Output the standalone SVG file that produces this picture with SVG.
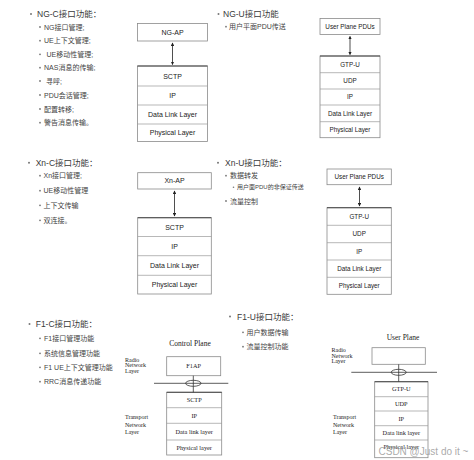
<svg xmlns="http://www.w3.org/2000/svg" width="474" height="460" viewBox="0 0 474 460">
<defs>
<style>
.t{font-family:"Liberation Sans","Noto Sans CJK SC",sans-serif;font-size:8.5px;fill:#3a3a3a}
.s{font-family:"Liberation Sans","Noto Sans CJK SC",sans-serif;font-size:7px;fill:#444}
.ss{font-family:"Liberation Sans","Noto Sans CJK SC",sans-serif;font-size:6px;fill:#444}
.b{fill:#777}
.box{fill:#fff;stroke:#8a8a8a;stroke-width:0.8}
.top{stroke:#444;stroke-width:1.1}
.sep{stroke:#999;stroke-width:0.7}
.l{font-family:"Liberation Sans",sans-serif;font-size:7px;fill:#222;text-anchor:middle}
.lu{font-family:"Liberation Sans",sans-serif;font-size:6.3px;fill:#222;text-anchor:middle}
.sf{font-family:"Liberation Serif",serif;font-size:6.3px;fill:#222;text-anchor:middle}
.sfl{font-family:"Liberation Serif",serif;font-size:6px;fill:#222}
.sft{font-family:"Liberation Serif",serif;font-size:7.5px;fill:#222;text-anchor:middle}
.ar{stroke:#222;stroke-width:0.8;fill:none;marker-start:url(#ah);marker-end:url(#ah)}
.ln{stroke:#333;stroke-width:0.8;fill:none}
</style>
<marker id="ah" viewBox="0 0 6 6" refX="5" refY="3" markerWidth="3.5" markerHeight="3.5" orient="auto-start-reverse" markerUnits="userSpaceOnUse"><path d="M0,0 L6,3 L0,6 z" fill="#222"/></marker>
</defs>
<rect width="474" height="460" fill="#fff"/>

<!-- NG-C -->
<g id="ngc-text">
<circle class="b" cx="31" cy="14" r="1"/><text class="t" x="37" y="17">NG-C接口功能：</text>
<circle class="b" cx="40" cy="27" r="0.9"/><text class="s" x="44" y="29.5">NG接口管理;</text>
<circle class="b" cx="40" cy="40.7" r="0.9"/><text class="s" x="44" y="43.2">UE上下文管理;</text>
<circle class="b" cx="40" cy="54.3" r="0.9"/><text class="s" x="46.5" y="56.8">UE移动性管理;</text>
<circle class="b" cx="40" cy="67.7" r="0.9"/><text class="s" x="44" y="70.2">NAS消息的传输;</text>
<circle class="b" cx="40" cy="81" r="0.9"/><text class="s" x="46" y="83.5">寻呼;</text>
<circle class="b" cx="40" cy="95" r="0.9"/><text class="s" x="44" y="97.5">PDU会话管理;</text>
<circle class="b" cx="40" cy="109" r="0.9"/><text class="s" x="44" y="111.5">配置转移;</text>
<circle class="b" cx="40" cy="122.7" r="0.9"/><text class="s" x="44" y="125.2">警告消息传输。</text>
</g>
<g id="ngc-ap"><rect class="box" x="137.5" y="23.5" width="70" height="17.5"/><text class="l" x="172.5" y="34.7">NG-AP</text></g>
<g id="ngc-stack">
<rect class="box" x="137.5" y="66" width="70" height="75.5"/>
<line class="top" x1="137.5" y1="66" x2="207.5" y2="66"/>
<line class="sep" x1="137.5" y1="86" x2="207.5" y2="86"/>
<line class="sep" x1="137.5" y1="105" x2="207.5" y2="105"/>
<line class="sep" x1="137.5" y1="124" x2="207.5" y2="124"/>
<text class="l" x="172.5" y="78.5">SCTP</text>
<text class="l" x="172.5" y="98">IP</text>
<text class="l" x="172.5" y="117">Data Link Layer</text>
<text class="l" x="172.5" y="135.3">Physical Layer</text>
</g>

<!-- NG-U -->
<g id="ngu-text">
<circle class="b" cx="218.5" cy="14" r="1"/><text class="t" x="223" y="17">NG-U接口功能</text>
<circle class="b" cx="226" cy="26.7" r="0.9"/><text class="s" x="229" y="29.2">用户平面PDU传送</text>
</g>
<g id="ngu-pdu"><rect class="box" x="320" y="18.5" width="60" height="16"/><text class="lu" x="350" y="28.8">User Plane PDUs</text></g>
<g id="ngu-stack">
<rect class="box" x="320" y="56" width="60" height="81.7"/>
<line class="top" x1="320" y1="56" x2="380" y2="56"/>
<line class="sep" x1="320" y1="72.7" x2="380" y2="72.7"/>
<line class="sep" x1="320" y1="89" x2="380" y2="89"/>
<line class="sep" x1="320" y1="105" x2="380" y2="105"/>
<line class="sep" x1="320" y1="121.7" x2="380" y2="121.7"/>
<text class="lu" x="350" y="66.6">GTP-U</text>
<text class="lu" x="350" y="83">UDP</text>
<text class="lu" x="350" y="99.2">IP</text>
<text class="lu" x="350" y="115.5">Data Link Layer</text>
<text class="lu" x="350" y="131.8">Physical Layer</text>
</g>

<!-- Xn-C -->
<g id="xnc-text">
<circle class="b" cx="29" cy="162.7" r="1"/><text class="t" x="35.7" y="165.7">Xn-C接口功能：</text>
<circle class="b" cx="40" cy="175.7" r="0.9"/><text class="s" x="43.5" y="178.3">Xn接口管理;</text>
<circle class="b" cx="40" cy="190.7" r="0.9"/><text class="s" x="43.5" y="193.3">UE移动性管理</text>
<circle class="b" cx="40" cy="205.3" r="0.9"/><text class="s" x="43.5" y="207.9">上下文传输</text>
<circle class="b" cx="40" cy="220.3" r="0.9"/><text class="s" x="43.5" y="222.9">双连接。</text>
</g>
<g id="xnc-ap"><rect class="box" x="137.7" y="172.7" width="73.6" height="16.3"/><text class="l" x="174.5" y="183.3">Xn-AP</text></g>
<g id="xnc-stack">
<rect class="box" x="137.7" y="217.7" width="73.6" height="76.3"/>
<line class="top" x1="137.7" y1="217.7" x2="211.3" y2="217.7"/>
<line class="sep" x1="137.7" y1="236.5" x2="211.3" y2="236.5"/>
<line class="sep" x1="137.7" y1="255.7" x2="211.3" y2="255.7"/>
<line class="sep" x1="137.7" y1="275.3" x2="211.3" y2="275.3"/>
<text class="l" x="174.5" y="229.6">SCTP</text>
<text class="l" x="174.5" y="248.6">IP</text>
<text class="l" x="174.5" y="268">Data Link Layer</text>
<text class="l" x="174.5" y="287.2">Physical Layer</text>
</g>

<!-- Xn-U -->
<g id="xnu-text">
<circle class="b" cx="218" cy="162.7" r="1"/><text class="t" x="225" y="165.7">Xn-U接口功能：</text>
<circle class="b" cx="226" cy="175.7" r="0.9"/><text class="s" x="230" y="178.2">数据转发</text>
<circle class="b" cx="233.5" cy="187.3" r="0.8"/><text class="ss" x="237" y="189.4">用户面PDU的非保证传送</text>
<circle class="b" cx="226" cy="201" r="0.9"/><text class="s" x="230" y="203.5">流量控制</text>
</g>
<g id="xnu-pdu"><rect class="box" x="327" y="169" width="64.3" height="15.7"/><text class="lu" x="359.2" y="179.1">User Plane PDUs</text></g>
<g id="xnu-stack">
<rect class="box" x="327" y="207.7" width="64.3" height="86.6"/>
<line class="top" x1="327" y1="207.7" x2="391.3" y2="207.7"/>
<line class="sep" x1="327" y1="225.3" x2="391.3" y2="225.3"/>
<line class="sep" x1="327" y1="242.7" x2="391.3" y2="242.7"/>
<line class="sep" x1="327" y1="260" x2="391.3" y2="260"/>
<line class="sep" x1="327" y1="277.3" x2="391.3" y2="277.3"/>
<text class="lu" x="359.2" y="218.7">GTP-U</text>
<text class="lu" x="359.2" y="236.2">UDP</text>
<text class="lu" x="359.2" y="253.5">IP</text>
<text class="lu" x="359.2" y="270.8">Data Link Layer</text>
<text class="lu" x="359.2" y="288">Physical Layer</text>
</g>

<!-- F1-C -->
<g id="f1c-text">
<circle class="b" cx="29.5" cy="324" r="1"/><text class="t" x="35.7" y="327">F1-C接口功能：</text>
<circle class="b" cx="40" cy="338.3" r="0.9"/><text class="s" x="44" y="340.8">F1接口管理功能</text>
<circle class="b" cx="40" cy="353.3" r="0.9"/><text class="s" x="44" y="355.8">系统信息管理功能</text>
<circle class="b" cx="40" cy="367.3" r="0.9"/><text class="s" x="44" y="369.8">F1 UE上下文管理功能</text>
<circle class="b" cx="40" cy="381.7" r="0.9"/><text class="s" x="44" y="384.2">RRC消息传递功能</text>
</g>
<g id="f1c-labels">
<text class="sft" x="190" y="346">Control Plane</text>
<text class="sfl" x="125" y="361.5">Radio</text>
<text class="sfl" x="125" y="367">Network</text>
<text class="sfl" x="125" y="372.5">Layer</text>
<text class="sfl" x="125" y="419">Transport</text>
<text class="sfl" x="125" y="426.5">Network</text>
<text class="sfl" x="125" y="434">Layer</text>
</g>
<g id="f1c-ap"><rect class="box" x="166.7" y="356.7" width="54" height="19"/><text class="sf" x="193.7" y="368.3">F1AP</text></g>
<g id="f1c-stack">
<rect class="box" x="166.7" y="392.3" width="55" height="62.7"/>
<line class="top" x1="166.7" y1="392.3" x2="221.7" y2="392.3"/>
<line class="sep" x1="166.7" y1="407.7" x2="221.7" y2="407.7"/>
<line class="sep" x1="166.7" y1="423.3" x2="221.7" y2="423.3"/>
<line class="sep" x1="166.7" y1="440" x2="221.7" y2="440"/>
<text class="sf" x="194.2" y="402.2">SCTP</text>
<text class="sf" x="194.2" y="417.7">IP</text>
<text class="sf" x="194.2" y="433.8">Data link layer</text>
<text class="sf" x="194.2" y="449.6">Physical layer</text>
</g>

<!-- F1-U -->
<g id="f1u-text">
<circle class="b" cx="230" cy="316.5" r="1"/><text class="t" x="237" y="319.5">F1-U接口功能：</text>
<circle class="b" cx="243" cy="332.3" r="0.9"/><text class="s" x="246.5" y="334.8">用户数据传输</text>
<circle class="b" cx="243" cy="346.7" r="0.9"/><text class="s" x="246.5" y="349.2">流量控制功能</text>
</g>
<g id="f1u-labels">
<text class="sft" x="403" y="340">User Plane</text>
<text class="sfl" x="331.5" y="352">Radio</text>
<text class="sfl" x="331.5" y="357.7">Network</text>
<text class="sfl" x="331.5" y="363.3">Layer</text>
<text class="sfl" x="333" y="419">Transport</text>
<text class="sfl" x="333" y="426.5">Network</text>
<text class="sfl" x="333" y="434">Layer</text>
</g>
<g id="f1u-box"><rect class="box" x="372" y="347.7" width="53.3" height="16.6"/></g>
<g id="f1u-stack">
<rect class="box" x="374.7" y="381.7" width="53.3" height="76"/>
<line class="top" x1="374.7" y1="381.7" x2="428" y2="381.7"/>
<line class="sep" x1="374.7" y1="396.7" x2="428" y2="396.7"/>
<line class="sep" x1="374.7" y1="411" x2="428" y2="411"/>
<line class="sep" x1="374.7" y1="425.7" x2="428" y2="425.7"/>
<line class="sep" x1="374.7" y1="440" x2="428" y2="440"/>
<text class="sf" x="401.3" y="391.4">GTP-U</text>
<text class="sf" x="401.3" y="406">UDP</text>
<text class="sf" x="401.3" y="420.5">IP</text>
<text class="sf" x="401.3" y="435">Data link layer</text>
<text class="sf" x="401.3" y="449">Physical layer</text>
</g>

<!-- connectors -->
<g id="connectors">
<line class="ar" x1="172.5" y1="43" x2="172.5" y2="64.5"/>
<line class="ar" x1="350" y1="36.5" x2="350" y2="54.5"/>
<line class="ar" x1="174.5" y1="191" x2="174.5" y2="216"/>
<line class="ar" x1="359.5" y1="187" x2="359.5" y2="206"/>
<line class="ln" x1="154" y1="383.3" x2="228.3" y2="383.3"/>
<line class="ln" x1="193.3" y1="375.7" x2="193.3" y2="392.3"/>
<ellipse class="ln" cx="193.3" cy="383.3" rx="7.7" ry="3"/>
<line class="ln" x1="351.3" y1="372.3" x2="437" y2="372.3"/>
<line class="ln" x1="398.7" y1="364.3" x2="398.7" y2="381.7"/>
<ellipse class="ln" cx="398.7" cy="372.3" rx="7.5" ry="3"/>
</g>

<text x="378.5" y="455" font-family="Liberation Sans, sans-serif" font-size="10" fill="#9a9a9a" fill-opacity="0.85">CSDN @Just do it ~</text>
</svg>
